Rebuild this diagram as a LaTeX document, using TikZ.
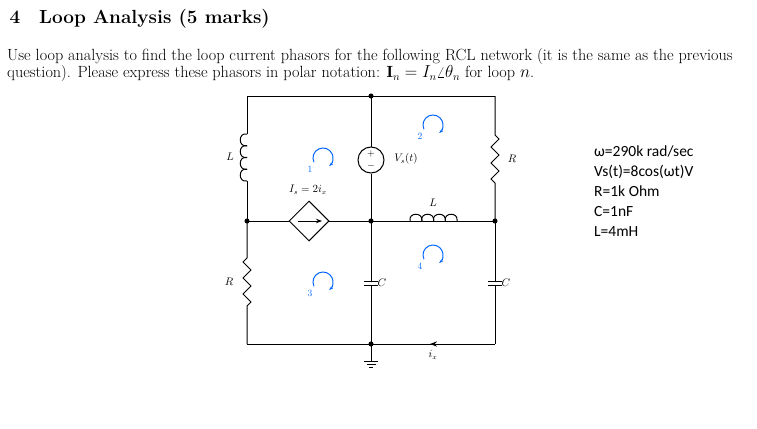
\documentclass[tikz,border=0pt]{standalone}
\usepackage{fontspec}
\newfontfamily\calfont{Carlito}
\usetikzlibrary{arrows.meta,shapes.geometric}
\begin{document}
\begin{tikzpicture}[x=1pt,y=-1pt,
 w/.style={line width=1pt},
 dot/.style={circle,fill,inner sep=1.8pt},
 loopc/.style={draw=blue!60!cyan,line width=1pt,-{Stealth[length=4pt]}},
 lbl/.style={font=\fontsize{10.5}{10.5}\selectfont\itshape},
 num/.style={font=\fontsize{9.5}{9.5}\selectfont,text=blue!60!cyan}]
\useasboundingbox (0,0) rectangle (757,428);
\node[anchor=west,font=\fontsize{19}{19}\selectfont\bfseries] (h) at (6,19) {4\quad Loop Analysis (5 marks)};
\node[anchor=north west,align=left,font=\fontsize{16.2}{16}\selectfont,inner sep=0] (t) at (7,48) {Use loop analysis to find the loop current phasors for the following RCL network (it is the same as the previous\\question). Please express these phasors in polar notation: $\mathbf{I}_n=I_n\angle\theta_n$ for loop $n$.};
\coordinate (TL) at (247,96); \coordinate (TM) at (371,96); \coordinate (TR) at (495,96);
\coordinate (ML) at (247,221); \coordinate (MM) at (371,221); \coordinate (MR) at (495,221);
\coordinate (BL) at (247,344); \coordinate (BM) at (371,344); \coordinate (BR) at (495,344);
\draw[w] (TL) -- (TR);
\draw[w] (BL) -- (BR);
\draw[w] (ML) -- (MR);
% left upper inductor
\draw[w] (TL) -- (247,134) (247,181) -- (ML);
\foreach \i in {0,...,3}{
 \pgfmathsetmacro\ya{134+11.75*\i}\pgfmathsetmacro\yb{134+11.75*(\i+1)}
 \draw[w] (247,\ya) .. controls (238,\ya-2) and (238,\yb+2) .. (247,\yb);}
% left lower resistor
\draw[w] (ML) -- (247,258) -- (243,262) -- (251,270) -- (243,278) -- (251,286) -- (243,294) -- (251,302) -- (247,306) -- (BL);
% right resistor
\draw[w] (TR) -- (495,135) -- (499,139) -- (491,147) -- (499,155) -- (491,163) -- (499,171) -- (491,179) -- (495,183) -- (MR);
% Vs
\node[draw,circle,w,fill=white,minimum size=26pt,inner sep=0] (vs) at (371,160) {};
\node[font=\fontsize{10}{10}\selectfont] at (371,153.5) {$+$};
\node[font=\fontsize{10}{10}\selectfont] at (371,166) {$-$};
\draw[w] (TM) -- (vs.north) (vs.south) -- (MM);
% caps
\draw[w] (MM) -- (371,281) (371,285) -- (BM);
\draw[w] (364,281) -- (378,281) (364,285) -- (378,285);
\draw[w] (MR) -- (495,281) (495,285) -- (BR);
\draw[w] (488,281) -- (502,281) (488,285) -- (502,285);
% ground
\draw[w] (BM) -- (371,361);
\draw[w] (364,361) -- (378,361) (366.5,364) -- (375.5,364) (369,367) -- (373,367);
% diamond
\node[draw,diamond,w,fill=white,minimum size=40pt,inner sep=0] (ds) at (309,221) {};
\draw[w,-{Stealth[length=6pt]}] (298,221) -- (322,221);
% horizontal inductor
\fill[white] (409,212) rectangle (458,220.5);
\foreach \i in {0,...,3}{
 \pgfmathsetmacro\xa{410+11.75*\i}\pgfmathsetmacro\xb{410+11.75*(\i+1)}
 \draw[w] (\xa,221) .. controls (\xa-2,212) and (\xb+2,212) .. (\xb,221);}
\foreach \p in {TM,ML,MM,MR,BM} \node[dot] at (\p) {};
% ix arrow
\draw[w,-{Stealth[length=7pt]}] (440,344) -- (430,344);
\node[lbl] at (433,355) {$i_x$};
\node[lbl] at (230,157) {$L$};
\node[lbl] at (229,282) {$R$};
\node[lbl] at (512,159) {$R$};
\node[lbl] at (433,203) {$L$};
\node[lbl] at (382,283) {$C$};
\node[lbl] at (506,283) {$C$};
\node[lbl] at (406,159) {$V_s(t)$};
\node[lbl] at (308,190) {$I_s=2i_x$};
\foreach \cx/\cy/\n in {323/158/1, 433/125/2, 323/282/3, 433/255/4}{
 \draw[loopc] (\cx,\cy) ++(155:10) arc[start angle=155,end angle=412,radius=10];
 \node[num] at (\cx-13,\cy+11) {\n};
}
\node[anchor=north west,align=left,font=\calfont\fontsize{15.5}{20}\selectfont,inner sep=0] (p) at (594,146) {ω=290k rad/sec\\Vs(t)=8cos(ωt)V\\R=1k Ohm\\C=1nF\\L=4mH};
\end{tikzpicture}
\end{document}
